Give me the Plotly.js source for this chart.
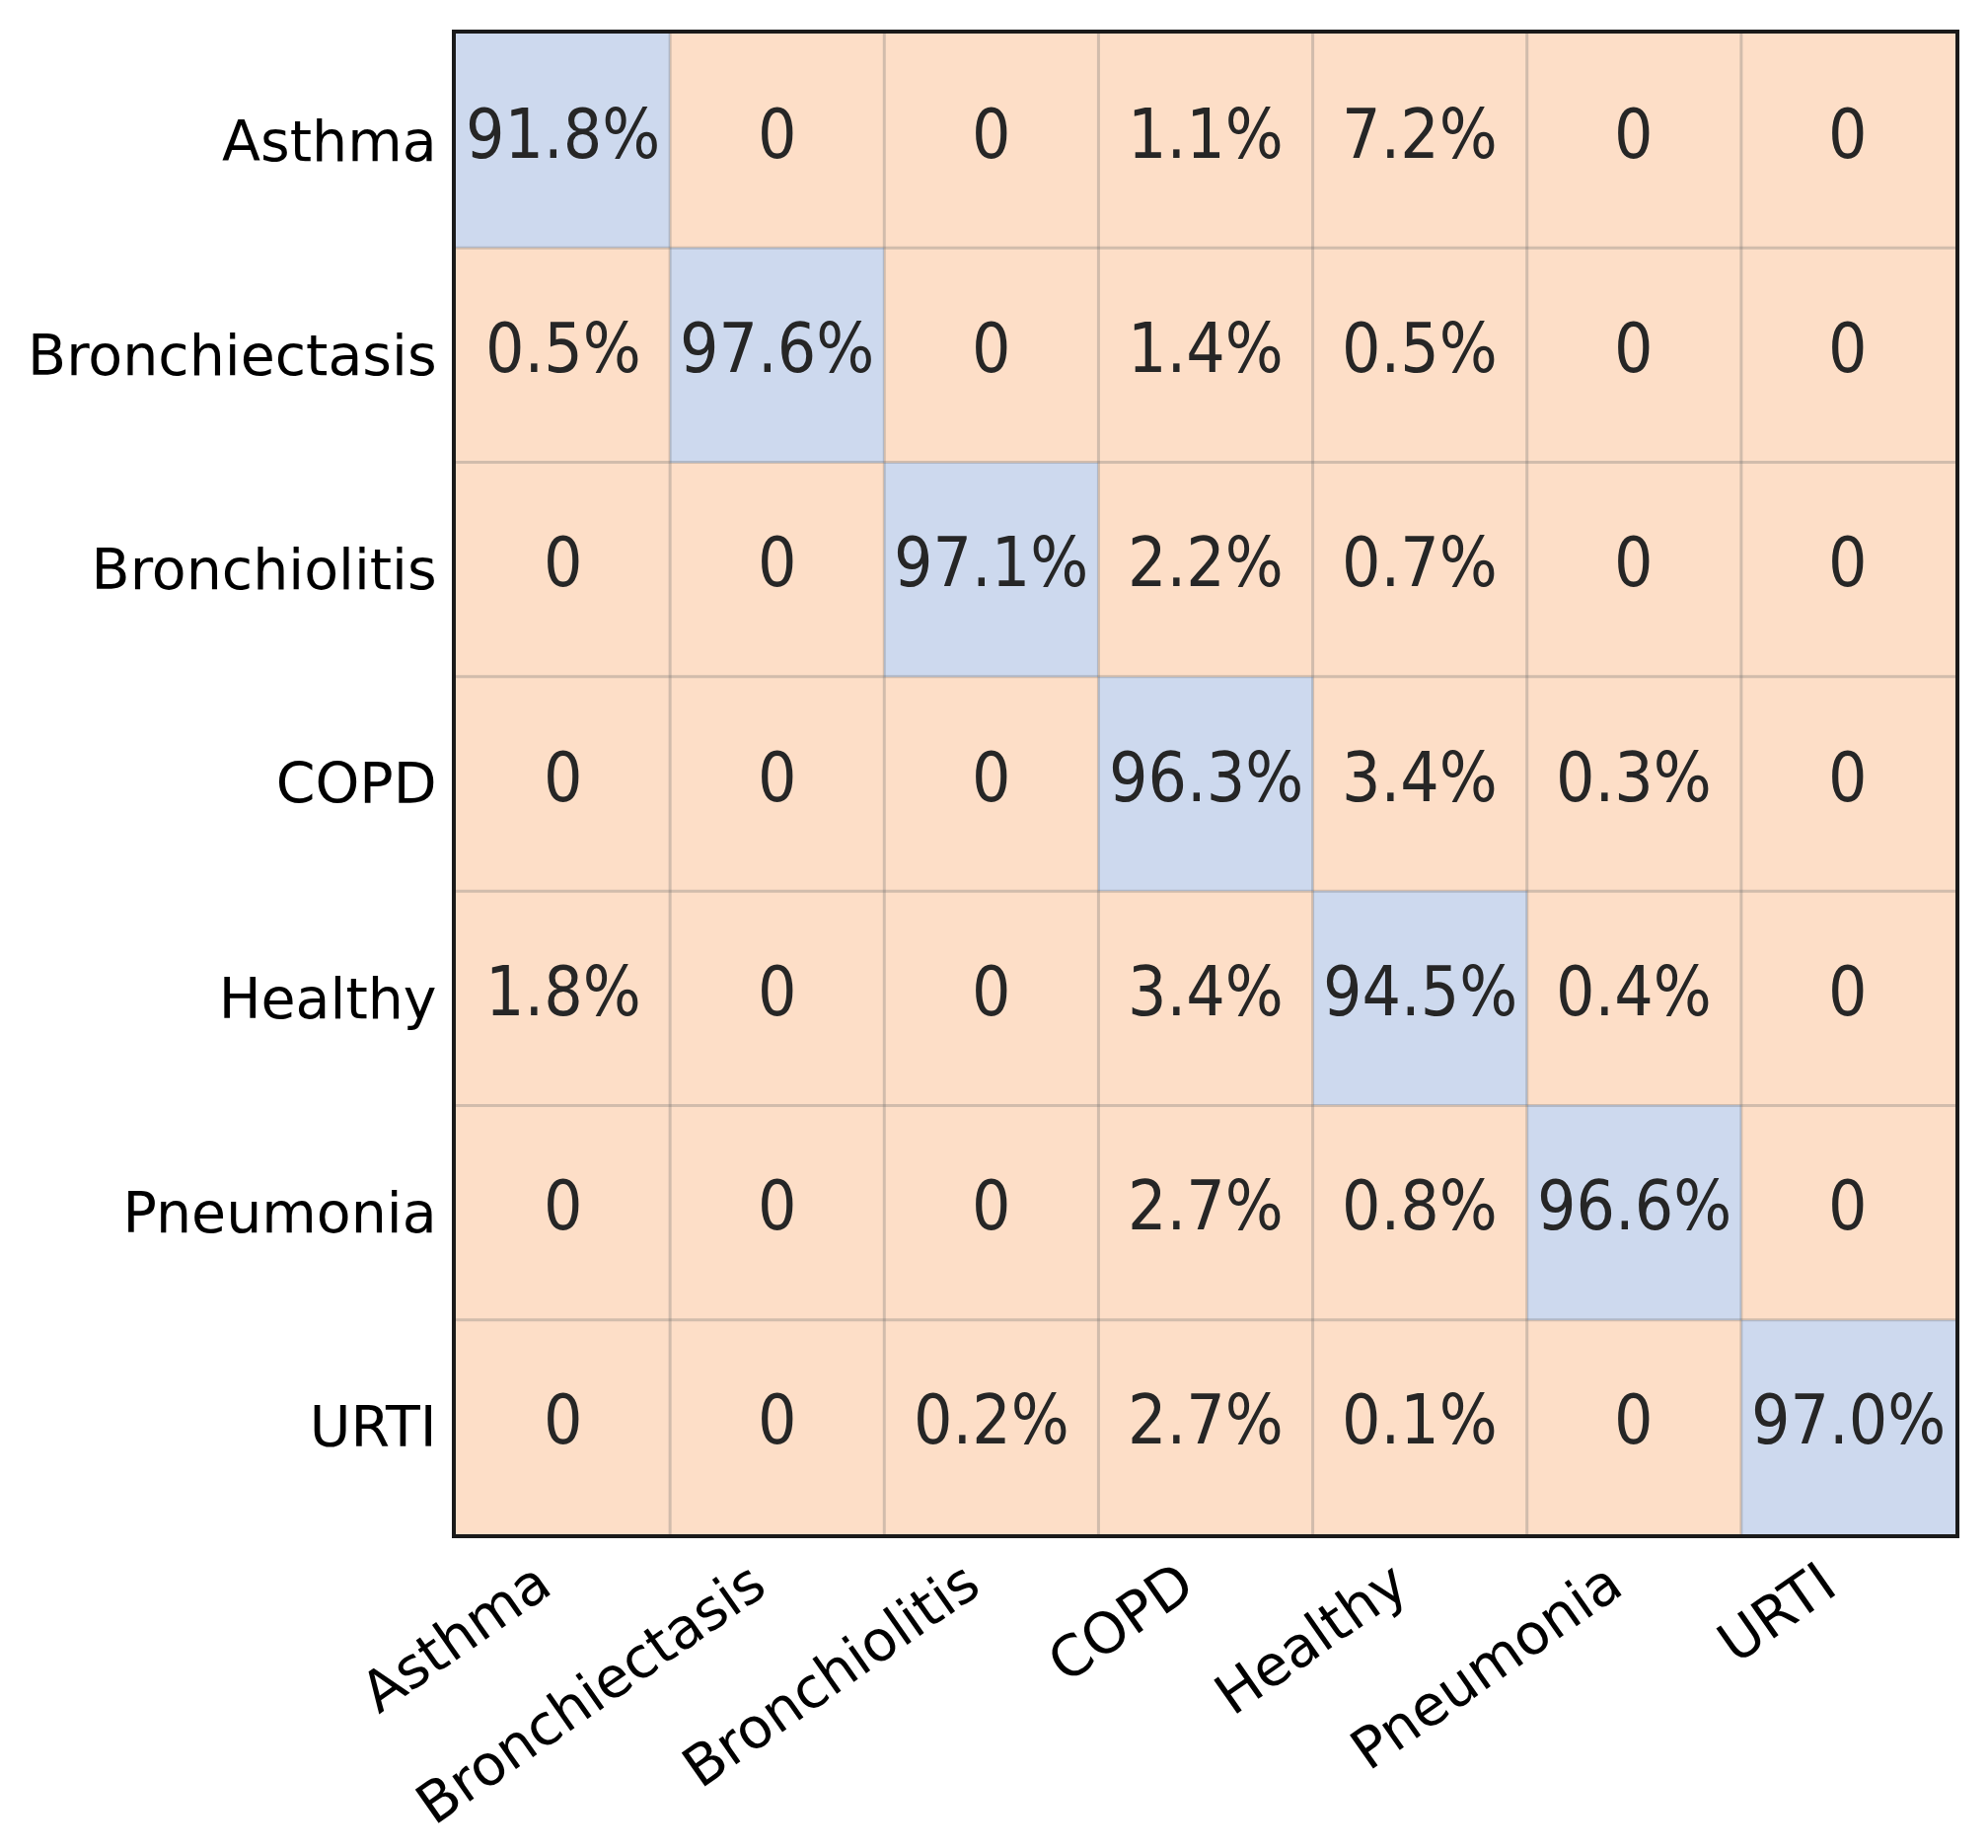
<!DOCTYPE html>
<html>
<head>
<meta charset="utf-8">
<script src="https://cdn.plot.ly/plotly-3.0.1.min.js"></script>
<style>
  html, body { margin: 0; padding: 0; background: #ffffff; }
  #chart { width: 2015px; height: 1873px; }
</style>
</head>
<body>
<div id="chart"></div>
<script>
// Confusion matrix: rows = true class, columns = predicted class (percent of row)
const classes = ["Asthma", "Bronchiectasis", "Bronchiolitis", "COPD", "Healthy", "Pneumonia", "URTI"];

const rowAsthma         = [91.8, 0,    0,    1.1,  7.2,  0,    0];
const rowBronchiectasis = [0.5,  97.6, 0,    1.4,  0.5,  0,    0];
const rowBronchiolitis  = [0,    0,    97.1, 2.2,  0.7,  0,    0];
const rowCOPD           = [0,    0,    0,    96.3, 3.4,  0.3,  0];
const rowHealthy        = [1.8,  0,    0,    3.4,  94.5, 0.4,  0];
const rowPneumonia      = [0,    0,    0,    2.7,  0.8,  96.6, 0];
const rowURTI           = [0,    0,    0.2,  2.7,  0.1,  0,    97.0];

const matrix = [rowAsthma, rowBronchiectasis, rowBronchiolitis, rowCOPD, rowHealthy, rowPneumonia, rowURTI];

const peach = "rgb(253,222,199)";
const blue = "rgb(205,217,238)";

const trace = {
  type: "heatmap",
  x: classes,
  y: classes,
  z: matrix,
  zmin: 0,
  zmax: 100,
  colorscale: [[0, peach], [0.5, peach], [0.5, blue], [1, blue]],
  showscale: false,
  hoverinfo: "skip"
};

const annotations = [];

// Cell labels: exact zeros print as "0", everything else as a percentage
matrix.forEach((row, r) => {
  row.forEach((v, c) => {
    annotations.push({
      xref: "x", yref: "y",
      x: classes[c], y: classes[r],
      text: v === 0 ? "0" : v.toFixed(1) + "%",
      showarrow: false,
      xanchor: "center", yanchor: "middle",
      yshift: 7,
      font: { family: "DejaVu Sans Condensed, DejaVu Sans", size: 69, color: "#262626" }
    });
  });
});

// Rotated column labels, right edge of each label's box at its column
classes.forEach(name => {
  annotations.push({
    xref: "x", yref: "paper",
    x: name, y: 0,
    text: name,
    showarrow: false,
    textangle: -35,
    xanchor: "right", yanchor: "top",
    xshift: 2, yshift: -12,
    font: { family: "DejaVu Sans", size: 57, color: "#000000" }
  });
});

// Thin translucent separators between cells
const n = classes.length;
const shapes = [];
for (let i = 1; i < n; i++) {
  shapes.push({
    type: "line", layer: "above", xref: "x", yref: "paper",
    x0: i - 0.5, x1: i - 0.5, y0: 0, y1: 1,
    line: { color: "rgba(110,110,110,0.3)", width: 3 }
  });
  shapes.push({
    type: "line", layer: "above", xref: "paper", yref: "y",
    x0: 0, x1: 1, y0: i - 0.5, y1: i - 0.5,
    line: { color: "rgba(110,110,110,0.3)", width: 3 }
  });
}

const layout = {
  width: 2015,
  height: 1873,
  margin: { l: 462, r: 33, t: 34, b: 318 },
  paper_bgcolor: "#ffffff",
  plot_bgcolor: "#ffffff",
  font: { family: "DejaVu Sans" },
  xaxis: {
    type: "category",
    categoryorder: "array",
    categoryarray: classes,
    range: [-0.5, n - 0.5],
    autorange: false,
    showticklabels: false,
    ticks: "",
    showgrid: false,
    zeroline: false,
    showline: true,
    mirror: true,
    linecolor: "#1a1a1a",
    linewidth: 4
  },
  yaxis: {
    type: "category",
    categoryorder: "array",
    categoryarray: classes,
    range: [n - 0.5, -0.5],
    autorange: false,
    tickfont: { family: "DejaVu Sans", size: 57, color: "#000000" },
    ticks: "",
    ticklabelstandoff: 4,
    showgrid: false,
    zeroline: false,
    showline: true,
    mirror: true,
    linecolor: "#1a1a1a",
    linewidth: 4
  },
  annotations: annotations,
  shapes: shapes
};

Plotly.newPlot("chart", [trace], layout, { displayModeBar: false, staticPlot: true });
</script>
</body>
</html>
